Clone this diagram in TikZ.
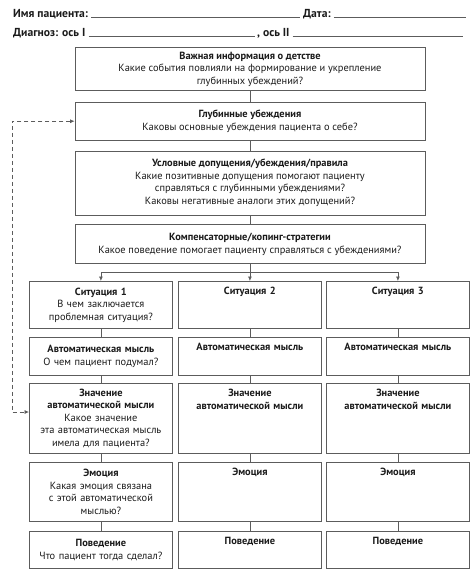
\documentclass[tikz,border=0pt]{standalone}
\usepackage{fontspec}
\setmainfont{PT Sans}
\usepackage{xcolor}
\usetikzlibrary{arrows.meta,positioning,calc}
\definecolor{linegray}{HTML}{5C5C5C}
\definecolor{inkgray}{HTML}{1A1A1A}
\newcommand{\toptxt}[2]{\parbox[c][#1][t]{137pt}{\centering\vspace*{6pt}#2}}

\begin{document}
\begin{tikzpicture}[x=1pt,y=-1pt,font=\fontsize{10.4}{12.5}\selectfont,text=inkgray,>={Latex[length=4.5pt,width=4pt]},
  blk/.style={draw=linegray,line width=.8pt,minimum width=350pt,align=center,inner sep=2pt},
  cell/.style={draw=linegray,line width=.8pt,text width=137pt,inner xsep=3pt,inner ysep=0pt,align=center,anchor=north west},
  head/.style={anchor=base west,inner sep=0pt,font=\fontsize{11.6}{13}\selectfont\bfseries},
  link/.style={draw=linegray,line width=.7pt}]
\useasboundingbox (0,0) rectangle (474,576);
% form header
\node[head] (name) at (13,17) {Имя пациента:};
\node[head] (date) at (303,17) {Дата:};
\node[head] (diag) at (13,36) {Диагноз: ось I};
\node[head] (axis) at (257,36) {, ось II};
\coordinate (dateend) at (466,17); \coordinate (axisend) at (463,36);
\draw[link,line width=.6pt,shorten <=3pt,shorten >=3pt] (name.base east)--(date.base west);
\draw[link,line width=.6pt,shorten <=3pt] (date.base east)--(dateend);
\draw[link,line width=.6pt,shorten <=3pt,shorten >=2pt] (diag.base east)--(axis.base west);
\draw[link,line width=.6pt,shorten <=3pt] (axis.base east)--(axisend);
% conceptual part
\node[blk,minimum height=43pt,anchor=north] (child) at (250,47) {\textbf{Важная информация о детстве}\\Какие события повлияли на формирование и укрепление\\глубинных убеждений?};
\node[blk,minimum height=38pt,below=11pt of child] (core) {\textbf{Глубинные убеждения}\\Каковы основные убеждения пациента о себе?};
\node[blk,minimum height=64pt,below=10pt of core] (rules) {\textbf{Условные допущения/убеждения/правила}\\Какие позитивные допущения помогают пациенту\\справляться с глубинными убеждениями?\\Каковы негативные аналоги этих допущений?};
\node[blk,minimum height=39pt,below=9pt of rules] (coping) {\textbf{Компенсаторные/копинг-стратегии}\\Какое поведение помогает пациенту справляться с убеждениями?};
\draw[link] (child)--(core); \draw[link] (core)--(rules); \draw[link] (rules)--(coping);
% situations
\node[cell,minimum height=47pt] (s1) at (29,281) {\textbf{Ситуация 1}\\В чем заключается\\проблемная ситуация?};
\node[cell] (s2) at (178,281) {\toptxt{47pt}{\textbf{Ситуация 2}}};
\node[cell] (s3) at (326,281) {\toptxt{47pt}{\textbf{Ситуация 3}}};
\node[cell,minimum height=38pt] (a1) at (29,337) {\textbf{Автоматическая мысль}\\О чем пациент подумал?};
\node[cell] (a2) at (178,337) {\toptxt{38pt}{\textbf{Автоматическая мысль}}};
\node[cell] (a3) at (326,337) {\toptxt{38pt}{\textbf{Автоматическая мысль}}};
\node[cell,minimum height=70pt] (m1) at (29,383) {\textbf{Значение}\\\textbf{автоматической мысли}\\Какое значение\\эта автоматическая мысль\\имела для пациента?};
\node[cell] (m2) at (178,383) {\toptxt{70pt}{\textbf{Значение}\\\textbf{автоматической мысли}}};
\node[cell] (m3) at (326,383) {\toptxt{70pt}{\textbf{Значение}\\\textbf{автоматической мысли}}};
\node[cell,minimum height=59pt] (e1) at (29,462) {\textbf{Эмоция}\\Какая эмоция связана\\с этой автоматической\\мыслью?};
\node[cell] (e2) at (178,462) {\toptxt{59pt}{\textbf{Эмоция}}};
\node[cell] (e3) at (326,462) {\toptxt{59pt}{\textbf{Эмоция}}};
\node[cell,minimum height=37pt] (b1) at (29,531) {\textbf{Поведение}\\Что пациент тогда сделал?};
\node[cell] (b2) at (178,531) {\toptxt{37pt}{\textbf{Поведение}}};
\node[cell] (b3) at (326,531) {\toptxt{37pt}{\textbf{Поведение}}};
% fork from coping strategies
\coordinate (fork) at ($(coping.south)+(0,8)$);
\draw[link] (fork -| s1.north)--(fork -| s3.north);
\draw[link,->] (coping.south -| s2.north)--(s2.north);
\draw[link,->] (fork -| s1.north)--(s1.north); \draw[link,->] (fork -| s3.north)--(s3.north);
% columns
\draw[link] (s1)--(a1); \draw[link] (a1)--(m1); \draw[link] (m1)--(e1); \draw[link] (e1)--(b1);
\draw[link] (s2)--(a2); \draw[link] (a2)--(m2); \draw[link] (m2)--(e2); \draw[link] (e2)--(b2);
\draw[link] (s3)--(a3); \draw[link] (a3)--(m3); \draw[link] (m3)--(e3); \draw[link] (e3)--(b3);
% feedback to core beliefs
\coordinate (loop) at (12,412);
\draw[link,dash pattern=on 4pt off 3pt,<->] (core.west)--(core.west -| loop)--(loop)--(loop -| m1.west);
\end{tikzpicture}
\end{document}
